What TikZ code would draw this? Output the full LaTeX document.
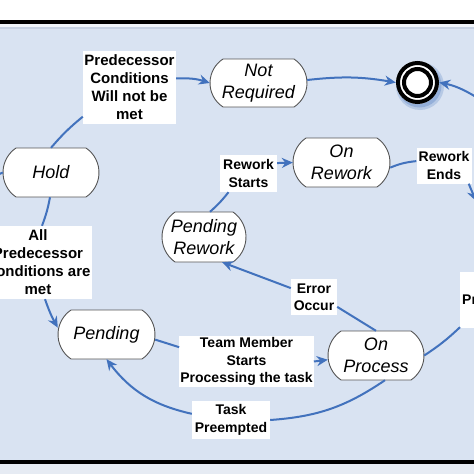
\documentclass[tikz,border=0pt]{standalone}
\usepackage{fontspec}
\setmainfont{Liberation Sans}
\usetikzlibrary{arrows.meta,calc}
\definecolor{bgblue}{HTML}{D9E3F2}
\definecolor{bandblue}{HTML}{C6D1E3}
\definecolor{lowbg}{HTML}{E6EBF3}
\definecolor{edgeblue}{HTML}{4272BD}
\definecolor{stategray}{HTML}{555555}
\tikzset{
  lbl/.style={fill=white, inner sep=1pt, align=center,
    font=\bfseries\fontsize{14}{17.5}\selectfont},
  biglbl/.style={lbl, font=\bfseries\fontsize{15}{18}\selectfont},
  statetext/.style={inner sep=0pt, align=center,
    font=\itshape\fontsize{18}{22}\selectfont},
  stateline/.style={draw=stategray, fill=white, line width=0.9pt},
  edge/.style={draw=edgeblue, line width=2pt},
  arr/.style={edge, -{Stealth[length=11pt,width=10pt]}}
}
% #1 cx, #2 cy, #3 half width, #4 half height, #5 side depth
\newcommand\stateshape[5]{%
  \pgfmathsetmacro\stRc{(#4*#4+#5*#5)/(2*#5)}%
  \pgfmathsetmacro\stTh{asin(#4/\stRc)}%
  \filldraw[stateline] (#1-#3+#5,#2+#4) -- (#1+#3-#5,#2+#4)
    arc[start angle=\stTh, end angle=-\stTh, radius=\stRc]
    -- (#1-#3+#5,#2-#4)
    arc[start angle=180+\stTh, end angle=180-\stTh, radius=\stRc]
    -- cycle;}
\newcommand\statenode[6]{%
  \stateshape{#2}{#3}{#4}{#5}{13}
  \node[statetext, minimum width=2*#4 pt, minimum height=2*#5 pt] (#1) at (#2,#3) {#6};}
\begin{document}
\begin{tikzpicture}[x=1pt,y=1pt]
\useasboundingbox (0,0) rectangle (474,-474);
\clip (0,0) rectangle (474,-474);
% background
\fill[white] (0,0) rectangle (474,-474);
\fill[bgblue] (0,-23.5) rectangle (474,-460);
\fill[white!60!bgblue] (0,-23.5) rectangle (474,-26.5);
\fill[bandblue] (0,-26.5) rectangle (474,-29);
\fill[black] (0,-19.5) rectangle (474,-23.5);
\fill[black] (0,-460) rectangle (474,-464);
\fill[lowbg] (0,-464) rectangle (474,-474);

% states
\statenode{notreq}{258.5}{-83}{48.5}{24}{Not\\Required}
\statenode{hold}{51}{-172.5}{48}{24.5}{Hold}
\statenode{onrework}{341.5}{-162.5}{48.5}{24.5}{On\\Rework}
\statenode{pendrework}{204}{-237}{42}{25}{Pending\\Rework}
\statenode{pending}{106.5}{-334.5}{48.5}{24.5}{Pending}
\statenode{onprocess}{376}{-355.5}{48}{24.5}{On\\Process}

% final state
\node[circle, minimum size=43pt, inner sep=0pt] (final) at (417.5,-82.5) {};
\fill[edgeblue!45!bgblue, opacity=0.5] ($(final.center)+(2.5,-3.5)$) circle (24);
\fill[edgeblue!60!bgblue, opacity=0.6] ($(final.center)+(2,-3)$) circle (22);
\fill[white] (final.center) circle (21.5);
\draw[black, line width=4pt] (final.center) circle (19.5);
\draw[black, line width=4pt] (final.center) circle (13.5);

% labels
\node[biglbl, minimum width=93pt, minimum height=73pt] (l1) at (129.5,-87.5) {Predecessor\\Conditions\\Will not be\\met};
\node[biglbl, minimum width=108pt, minimum height=73pt] (l2) at (38,-262.5) {All\\Predecessor\\Conditions are\\met};
\node[lbl, minimum width=133pt, minimum height=49pt] (l3) at (246.5,-361.5) {Team Member\\Starts\\Processing the task};
\node[lbl, minimum width=78pt, minimum height=38pt] (l4) at (231,-420) {Task\\Preempted};
\node[lbl, minimum width=46pt, minimum height=36pt] (l5) at (314,-297) {Error\\Occur};
\node[lbl, minimum width=57pt, minimum height=37pt] (l6) at (248.5,-173.5) {Rework\\Starts};
\node[lbl, minimum width=55pt, minimum height=36pt] (l7) at (444,-165.5) {Rework\\Ends};
\node[lbl, anchor=west, text width=26pt, align=left, minimum height=56pt, inner sep=2pt] (l8) at (460,-300) {Pr};

% free ends
\coordinate (inR) at (476,-97);
\coordinate (outR) at (476,-201);
\coordinate (inL) at (-5,-176);

% connectors
\draw[edge] (hold.north) to[bend left=5] (l1.212);
\draw[arr] (l1.11) to[bend left=10] (notreq.west);
\draw[arr] ([yshift=3pt]notreq.east) to[bend left=8] (final.west);
\draw[arr] (inR) to[bend right=10] (final.east);
\draw[edge] (inL) -- (hold.west);
\draw[edge] ([xshift=-1pt]hold.south) to[bend left=5] ([xshift=4pt]l2.north);
\draw[arr] ([xshift=7pt]l2.south) to[bend right=5] (pending.172);
\draw[edge] (pending.-6) -- (l3.168);
\draw[arr] (l3.east) -- (onprocess.185);
\draw[edge] ([xshift=9pt]onprocess.south) to[bend left=15] (l4.east);
\draw[arr] (l4.171) to[bend left=20] (pending.south);
\draw[edge] (onprocess.north) -- (l5.-23);
\draw[arr] (l5.159) -- ([xshift=18pt]pendrework.south);
\draw[edge] ([xshift=6pt]pendrework.north) to[bend right=5] ([xshift=-20pt]l6.south);
\draw[arr] (l6.20) -- (onrework.west);
\draw[edge] (onrework.-6) to[bend left=8] (l7.171);
\draw[arr] ([xshift=-3pt]l7.south east) -- (outR);
\draw[edge] (onprocess.east) to[bend right=5] ([yshift=1pt]l8.south west);
\end{tikzpicture}
\end{document}
